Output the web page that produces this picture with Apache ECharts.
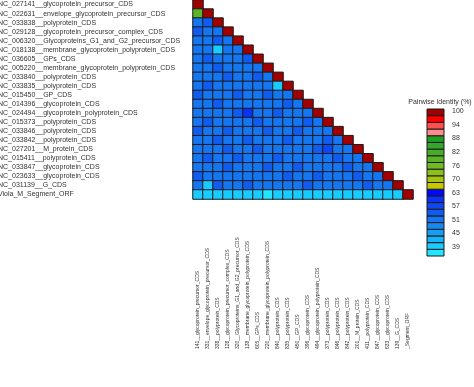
<!DOCTYPE html>
<html>
<head>
<meta charset="utf-8">
<script src="https://cdn.jsdelivr.net/npm/echarts@6/dist/echarts.min.js"></script>
<style>html,body{margin:0;padding:0;background:#fff}#c{width:474px;height:387px}</style>
</head>
<body>
<div id="c"></div>
<script>
const rowLabels = [
  'NC_027141__glycoprotein_precursor_CDS',
  'NC_022631__envelope_glycoprotein_precursor_CDS',
  'NC_033838__polyprotein_CDS',
  'NC_029128__glycoprotein_precursor_complex_CDS',
  'NC_006320__Glycoproteins_G1_and_G2_precursor_CDS',
  'NC_018138__membrane_glycoprotein_polyprotein_CDS',
  'NC_036605__GPs_CDS',
  'NC_005220__membrane_glycoprotein_polyprotein_CDS',
  'NC_033840__polyprotein_CDS',
  'NC_033835__polyprotein_CDS',
  'NC_015450__GP_CDS',
  'NC_014396__glycoprotein_CDS',
  'NC_024494__glycoprotein_polyprotein_CDS',
  'NC_015373__polyprotein_CDS',
  'NC_033846__polyprotein_CDS',
  'NC_033842__polyprotein_CDS',
  'NC_027201__M_protein_CDS',
  'NC_015411__polyprotein_CDS',
  'NC_033847__glycoprotein_CDS',
  'NC_023633__glycoprotein_CDS',
  'NC_031139__G_CDS',
  'Viola_M_Segment_ORF'
];
const colLabels = [
  '141__glycoprotein_precursor_CDS',
  '331__envelope_glycoprotein_precursor_CDS',
  '338__polyprotein_CDS',
  '128__glycoprotein_precursor_complex_CDS',
  '320__Glycoproteins_G1_and_G2_precursor_CDS',
  '138__membrane_glycoprotein_polyprotein_CDS',
  '605__GPs_CDS',
  '220__membrane_glycoprotein_polyprotein_CDS',
  '840__polyprotein_CDS',
  '835__polyprotein_CDS',
  '450__GP_CDS',
  '396__glycoprotein_CDS',
  '494__glycoprotein_polyprotein_CDS',
  '373__polyprotein_CDS',
  '846__polyprotein_CDS',
  '842__polyprotein_CDS',
  '201__M_protein_CDS',
  '411__polyprotein_CDS',
  '847__glycoprotein_CDS',
  '633__glycoprotein_CDS',
  '139__G_CDS',
  '_Segment_ORF'
];
// lower triangle, row i has i+1 values (last is diagonal)
const identity = [
  [100],
  [78, 100],
  [50, 53, 100],
  [53, 51, 52, 100],
  [52, 50, 53, 51, 100],
  [51, 52, 40, 50, 52, 100],
  [52, 53, 51, 52, 50, 53, 100],
  [50, 52, 53, 51, 52, 50, 51, 100],
  [52, 51, 52, 53, 51, 52, 53, 50, 100],
  [51, 53, 50, 52, 52, 51, 50, 52, 40, 100],
  [53, 52, 51, 50, 53, 52, 51, 53, 50, 51, 100],
  [50, 51, 53, 52, 51, 50, 52, 51, 52, 53, 51, 100],
  [52, 50, 52, 51, 53, 61, 51, 50, 53, 51, 52, 50, 100],
  [51, 53, 51, 52, 50, 52, 53, 51, 52, 50, 51, 53, 52, 100],
  [53, 52, 50, 53, 52, 51, 52, 53, 51, 52, 53, 51, 50, 52, 100],
  [52, 51, 53, 51, 52, 53, 51, 52, 50, 53, 52, 50, 51, 53, 52, 100],
  [50, 52, 52, 53, 51, 50, 53, 51, 52, 51, 50, 52, 53, 57, 51, 52, 100],
  [52, 53, 51, 50, 53, 52, 51, 52, 53, 50, 52, 51, 52, 51, 53, 50, 52, 100],
  [51, 50, 52, 53, 51, 52, 50, 53, 51, 52, 53, 52, 50, 52, 51, 53, 51, 52, 100],
  [53, 52, 51, 52, 50, 51, 52, 50, 52, 53, 51, 50, 53, 51, 52, 51, 53, 50, 52, 100],
  [52, 40, 53, 51, 52, 53, 51, 52, 50, 51, 52, 53, 51, 52, 50, 52, 51, 53, 51, 52, 100],
  [38, 38, 38, 38, 38, 38, 38, 37, 38, 38, 38, 38, 38, 38, 38, 38, 38, 38, 38, 38, 38, 100]
];
const pieceBounds = [35, 38, 41, 44, 47, 50, 53, 56, 59, 62, 65, 68, 71, 74, 77, 80, 83, 86, 89, 92, 95, 98, 101];
const pieceColors = [
  '#22e6ff', '#18ccff', '#16b4f8', '#169ef4', '#1688f2', '#1476f0', '#105cf0', '#0e48f2', '#0a32f6', '#0008fc',
  '#c8c800', '#a6c412', '#8cbf1c', '#72b924', '#5cb428', '#46ac2a', '#34a62a', '#209e24',
  '#ff8c8c', '#ff5050', '#ff0000', '#a00000'
];
const legendTickValues = [100, 93.9, 87.8, 81.7, 75.6, 69.5, 63.4, 57.3, 51.2, 45.1, 39];
const legendTickLabels = ['100', '94', '88', '82', '76', '70', '63', '57', '51', '45', '39'];
const legendTitle = 'Pairwise identity (%)';

const heatData = [];
identity.forEach((row, r) => row.forEach((v, c) => heatData.push([c, r, v])));
const pieces = pieceColors.map((col, i) => ({ gte: pieceBounds[i], lt: pieceBounds[i + 1], color: col }));
pieces[pieces.length - 1].lte = pieceBounds[pieceBounds.length - 1];
delete pieces[pieces.length - 1].lt;
const legendData = pieceColors.map((col, i) => [pieceBounds[i], pieceBounds[i + 1], i]);
const FONT = '"Liberation Sans", Arial, sans-serif';

const chart = echarts.init(document.getElementById('c'), null, { renderer: 'canvas' });
chart.setOption({
  animation: false,
  backgroundColor: '#fff',
  textStyle: { fontFamily: FONT },
  title: {
    text: legendTitle, left: 440, top: 99, padding: 0, textAlign: 'center',
    textStyle: { fontSize: 7, fontWeight: 'normal', color: '#333', fontFamily: FONT }
  },
  grid: [
    { left: 193, top: 0, width: 220, height: 199, containLabel: false, outerBoundsMode: 'none' },
    { left: 427, top: 109, width: 17, height: 147, containLabel: false, outerBoundsMode: 'none' }
  ],
  xAxis: [
    {
      type: 'category', data: colLabels, gridIndex: 0,
      axisLine: { show: false }, axisTick: { show: false }, splitLine: { show: false },
      axisLabel: { interval: 0, rotate: 90, align: 'left', verticalAlign: 'middle', margin: 150,
        fontSize: 5, color: '#333', fontFamily: FONT }
    },
    { type: 'value', gridIndex: 1, min: 0, max: 1, show: false }
  ],
  yAxis: [
    {
      type: 'category', data: rowLabels, gridIndex: 0, inverse: true,
      axisLine: { show: false }, axisTick: { show: false }, splitLine: { show: false },
      axisLabel: { interval: 0, align: 'left', margin: 195, fontSize: 7, color: '#333', fontFamily: FONT }
    },
    {
      type: 'value', gridIndex: 1, min: 35, max: 101, position: 'right',
      axisLine: { show: false }, splitLine: { show: false },
      axisTick: { show: true, length: 4, customValues: legendTickValues, lineStyle: { color: '#555', width: 1 } },
      axisLabel: { margin: 8, fontSize: 7, color: '#333', fontFamily: FONT,
        customValues: legendTickValues,
        formatter: v => legendTickLabels[legendTickValues.indexOf(v)] }
    }
  ],
  visualMap: {
    type: 'piecewise', show: false, seriesIndex: 0, dimension: 2, pieces: pieces
  },
  series: [
    {
      type: 'heatmap', xAxisIndex: 0, yAxisIndex: 0, data: heatData,
      itemStyle: { borderColor: '#1a1a1a', borderWidth: 1 }
    },
    {
      type: 'custom', xAxisIndex: 1, yAxisIndex: 1, data: legendData,
      renderItem: (params, api) => {
        const p1 = api.coord([0, api.value(1)]);
        const p2 = api.coord([1, api.value(0)]);
        return {
          type: 'rect',
          shape: { x: p1[0], y: p1[1], width: p2[0] - p1[0], height: p2[1] - p1[1] },
          style: { fill: pieceColors[api.value(2)], stroke: '#1a1a1a', lineWidth: 1 }
        };
      }
    }
  ]
});
</script>
</body>
</html>
